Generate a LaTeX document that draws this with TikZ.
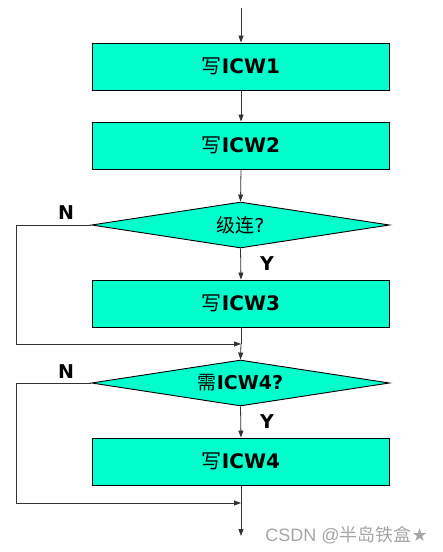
\documentclass[tikz,border=0pt]{standalone}
\usepackage{fontspec}
\newfontfamily\cjk{Noto Sans CJK SC}
\newfontfamily\lat{DejaVu Sans}
\newfontfamily\wmf{Liberation Sans}
\usetikzlibrary{arrows.meta,shapes.geometric}
\definecolor{boxfill}{RGB}{0,255,204}
\begin{document}
\begin{tikzpicture}[x=1pt,y=-1pt,
  stepbox/.style={draw=black,line width=0.9pt,fill=boxfill,minimum width=297pt,minimum height=47pt,inner sep=0pt,font=\fontsize{20}{24}\selectfont},
  decide/.style={diamond,draw=black,line width=0.9pt,fill=boxfill,minimum width=298pt,minimum height=46pt,inner sep=0pt,aspect=6.5,font=\fontsize{19}{23}\selectfont},
  arr/.style={draw=black!80,line width=0.8pt,-{Triangle[length=7pt,width=5pt]}},
  ln/.style={draw=black!80,line width=0.8pt},
  lbl/.style={font=\lat\bfseries\fontsize{19}{22}\selectfont,inner sep=0pt}]
\useasboundingbox (0,0) rectangle (443,552);
\node[stepbox] (b1) at (241,66.5) {{\cjk 写}{\lat\bfseries ICW1}};
\node[stepbox] (b2) at (241,145.5) {{\cjk 写}{\lat\bfseries ICW2}};
\node[decide] (d1) at (240.5,225) {{\cjk 级连}{\lat ?}};
\node[stepbox] (b3) at (241,303.5) {{\cjk 写}{\lat\bfseries ICW3}};
\node[decide] (d2) at (240.5,383) {{\cjk 需}{\lat\bfseries ICW4?}};
\node[stepbox] (b4) at (241,461.5) {{\cjk 写}{\lat\bfseries ICW4}};
\coordinate (top) at (241,8);
\coordinate (m1) at (241,344);
\coordinate (m2) at (241,503);
\coordinate (bot) at (241,536);
\coordinate (l1) at (16,225);
\coordinate (l1b) at (16,344);
\coordinate (l2) at (16,383);
\coordinate (l2b) at (16,503);
\draw[arr] (top) -- (b1.north);
\draw[arr] (b1.south) -- (b2.north);
\draw[arr] (b2.south) -- (d1.north);
\draw[arr] (d1.south) -- (b3.north);
\draw[ln] (b3.south) -- (m1);
\draw[arr] (m1) -- (d2.north);
\draw[arr] (d2.south) -- (b4.north);
\draw[ln] (b4.south) -- (m2);
\draw[arr] (m2) -- (bot);
\draw[ln] (d1.west) -- (l1) -- (l1b);
\draw[arr] (l1b) -- (m1);
\draw[ln] (d2.west) -- (l2) -- (l2b);
\draw[arr] (l2b) -- (m2);
\node[lbl] (n1) at (66,213) {N};
\node[lbl] (y1) at (267,264) {Y};
\node[lbl] (n2) at (66,372) {N};
\node[lbl] (y2) at (267,422) {Y};
\node[font=\fontsize{18}{21}\selectfont,text=black!35,anchor=east,inner sep=0pt] (wm) at (428,535) {{\wmf CSDN @}{\cjk 半岛铁盒}{\lat ★}};
\end{tikzpicture}
\end{document}
